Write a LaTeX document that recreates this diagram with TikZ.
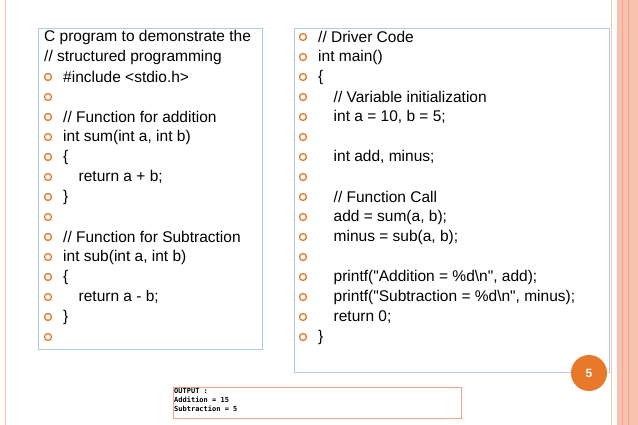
\documentclass[tikz,border=0pt]{standalone}
\usepackage{fontspec}
\setmainfont[Ligatures=NoCommon]{Liberation Sans}
\newfontfamily\monof{DejaVu Sans Mono}
\definecolor{orb}{HTML}{E8782A}
\definecolor{bxl}{HTML}{A9CCE3}
\definecolor{pk}{HTML}{F9C2AE}
\definecolor{pkd}{HTML}{F0A58A}
\newcommand{\qq}{\textquotedbl}
\begin{document}
\begin{tikzpicture}[x=1pt,y=-1pt,
 txt/.style={anchor=west,inner sep=0pt,font=\fontsize{15.5}{17}\selectfont},
 bul/.style={circle,draw=orb,line width=1.3pt,minimum size=7pt,inner sep=0pt},
 box/.style={draw=bxl,line width=0.8pt}]
\useasboundingbox (0,0) rectangle (638,425);
\fill[white] (0,0) rectangle (638,425);
\draw[pk,line width=1pt] (5,0) -- (5,425);
\draw[pk,line width=1pt] (611,0) -- (611,425);
\fill[pk] (617,0) rectangle (638,425);
\draw[pkd,line width=0.5pt] (622,0) -- (622,425) (628,0)--(628,425);
\draw[box] (38,28) rectangle (262,349);
\draw[box] (294,28) rectangle (609,372);
% left
\node[txt] (l1) at (44,37) {C program to demonstrate the};
\node[txt] (l2) at (44,57) {// structured programming};
\foreach \i/\t in {0/{\#include <stdio.h>},1/{},2/{// Function for addition},3/{int sum(int a, int b)},4/{\{},5/{\quad return a + b;},6/{\}},7/{},8/{// Function for Subtraction},9/{int sub(int a, int b)},10/{\{},11/{\quad return a - b;},12/{\}},13/{}}{
 \node[bul] (lb\i) at (48,{77+20*\i}) {};
 \node[txt] (lt\i) at (63,{77+20*\i}) {\t};
}
\foreach \i/\t in {0/{// Driver Code},1/{int main()},2/{\{},3/{\quad // Variable initialization},4/{\quad int a = 10, b = 5;},5/{},6/{\quad int add, minus;},7/{},8/{\quad // Function Call},9/{\quad add = sum(a, b);},10/{\quad minus = sub(a, b);},11/{},12/{\quad printf(\qq Addition = \%d\textbackslash n\qq, add);},13/{\quad printf(\qq Subtraction = \%d\textbackslash n\qq, minus);},14/{\quad return 0;},15/{\}}}{
 \node[bul] (rb\i) at (303,{37+20*\i}) {};
 \node[txt] (rt\i) at (318,{37+20*\i}) {\t};
}
\node[circle,fill=orb,minimum size=36pt,inner sep=0pt,text=white,font=\bfseries\fontsize{12}{12}\selectfont] (pg) at (589,373) {5};
\draw[pkd,line width=0.7pt] (173,387) rectangle (461,418);
\node[anchor=north west,align=left,inner sep=0pt,font=\monof\bfseries\fontsize{7}{9}\selectfont] (out) at (174,388.5) {OUTPUT :\\Addition = 15\\Subtraction = 5};
\end{tikzpicture}
\end{document}
